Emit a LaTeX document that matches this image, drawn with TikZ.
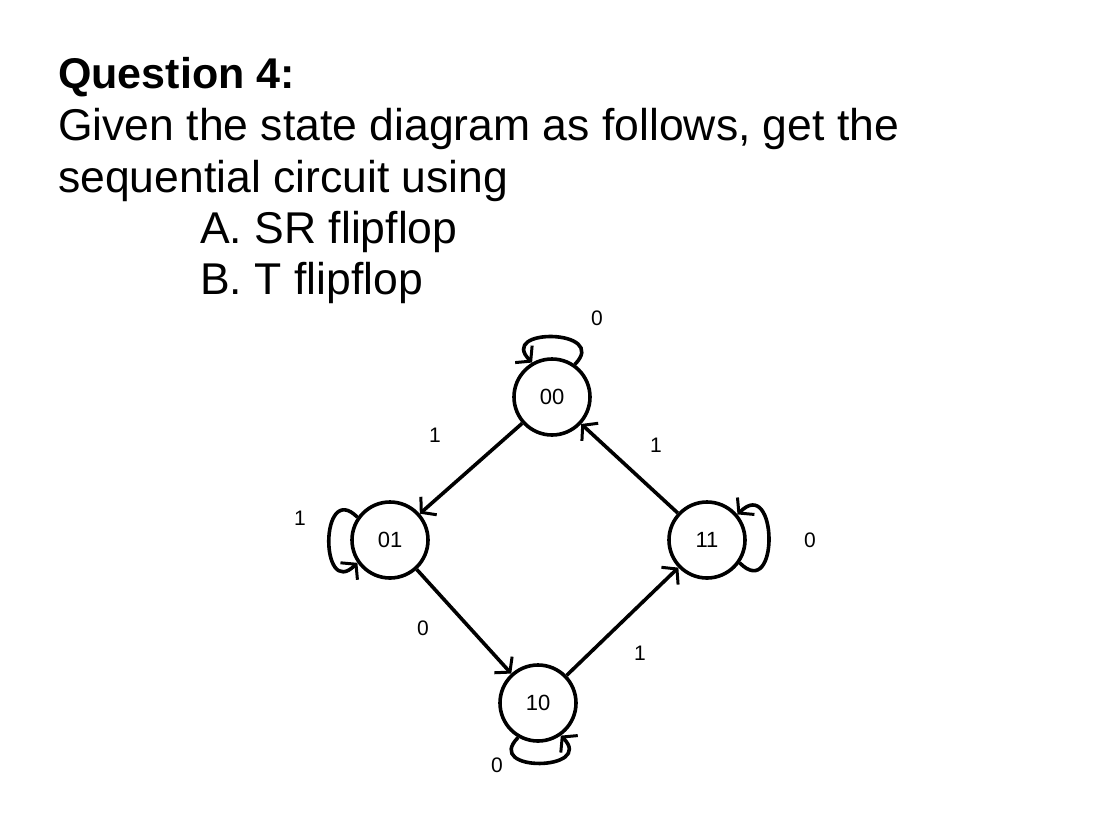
\documentclass[tikz,border=0pt]{standalone}
\usepackage{fontspec}
\setmainfont{Liberation Sans}
\usetikzlibrary{arrows.meta}
\begin{document}
\begin{tikzpicture}[x=1pt,y=-1pt,
  txt/.style={anchor=base west,inner sep=0pt,font=\fontsize{44.5}{48}\selectfont},
  st/.style={circle,draw,line width=3.6pt,minimum size=76pt,inner sep=0pt,font=\fontsize{22}{24}\selectfont},
  lab/.style={font=\fontsize{21}{22}\selectfont,inner sep=1pt},
  tr/.style={line width=3.6pt,-{Straight Barb[length=10pt,width=24pt,line width=3pt]}}]
\useasboundingbox (0,0) rectangle (1113,820);
\node[txt,font=\fontsize{43}{46}\selectfont\bfseries] (q) at (58,88) {Question 4:};
\node[txt] (l1) at (58,140) {Given the state diagram as follows, get the};
\node[txt] (l2) at (58,192) {sequential circuit using};
\node[txt] (l3) at (200,243) {A. SR flipflop};
\node[txt] (l4) at (200,294) {B. T flipflop};
\node[st] (s00) at (552,397) {00};
\node[st] (s01) at (390,540) {01};
\node[st] (s11) at (707,540) {11};
\node[st] (s10) at (538,703) {10};
\draw[tr] (s00) -- (s01);
\draw[tr] (s11) -- (s00);
\draw[tr] (s01) -- (s10);
\draw[tr] (s10) -- (s11);
\draw[tr] (s00.55) to[out=45,in=135,looseness=3] (s00.120);
\draw[tr] (s01.145) to[out=135,in=225,looseness=3] (s01.215);
\draw[tr] (s11.-35) to[out=-45,in=45,looseness=3] (s11.40);
\draw[tr] (s10.-120) to[out=-135,in=-45,looseness=3] (s10.-55);
\node[lab] (a) at (597,318) {0};
\node[lab] (b) at (300,518) {1};
\node[lab] (c) at (810,540) {0};
\node[lab] (d) at (497,765) {0};
\node[lab] (e) at (435,435) {1};
\node[lab] (f) at (656,445) {1};
\node[lab] (g) at (423,628) {0};
\node[lab] (h) at (640,653) {1};
\end{tikzpicture}
\end{document}
